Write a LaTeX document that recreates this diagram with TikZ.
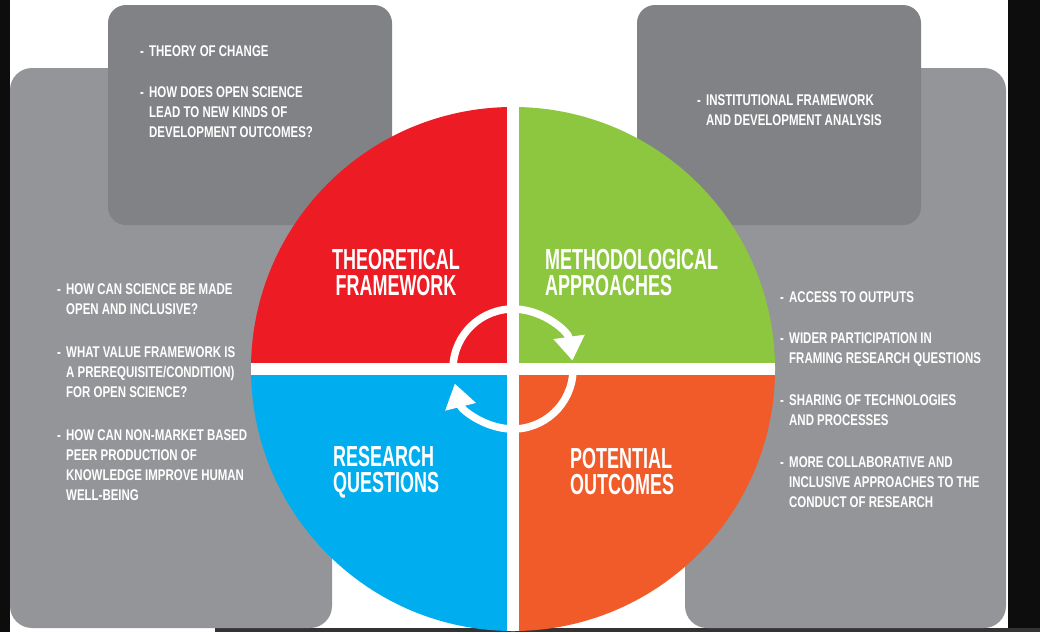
\documentclass[tikz,border=0pt]{standalone}
\usepackage{fontspec}
\setmainfont{Liberation Sans}[FakeStretch=0.74]
\newfontfamily\headfont{Liberation Sans}[FakeStretch=0.62]
\usetikzlibrary{arrows.meta}
\definecolor{qred}{HTML}{ED1C24}
\definecolor{qgreen}{HTML}{8DC63F}
\definecolor{qblue}{HTML}{00AEEF}
\definecolor{qorange}{HTML}{F15A29}
\definecolor{gbig}{HTML}{949598}
\definecolor{gdark}{HTML}{808285}
\newcommand{\itm}[1]{\makebox[9pt][l]{-}\begin{tabular}[t]{@{}l@{}}#1\end{tabular}}
\tikzset{
  small/.style={text=white,font=\bfseries\fontsize{15.5}{20}\selectfont,anchor=north west,inner sep=0pt,align=left},
  head/.style={text=white,font=\headfont\bfseries\fontsize{29}{26}\selectfont,inner sep=0pt,align=left},
  cyc/.style={white,line width=7.5pt,-{Triangle[width=30pt,length=24pt]}}
}
\begin{document}
\begin{tikzpicture}[x=1pt,y=-1pt]
\useasboundingbox (0,0) rectangle (1040,632);
\fill[white] (0,0) rectangle (1040,632);
\fill[black!95] (0,0) rectangle (10,632);
\fill[black!95] (1008,0) rectangle (1040,632);
\fill[black!80] (215,628) rectangle (1040,632);
% boxes
\fill[gbig,rounded corners=22pt] (10,68) rectangle (332,628);
\fill[gbig,rounded corners=22pt] (685,68) rectangle (1006,628);
\fill[gdark,rounded corners=18pt] (108,5) rectangle (392,225);
\fill[gdark,rounded corners=18pt] (637,5) rectangle (921,225);
% circle
\coordinate (c) at (513,369);
\begin{scope}
\clip (c) circle (262);
\fill[qred] (c) rectangle +(-270,-270);
\fill[qgreen] (c) rectangle +(270,-270);
\fill[qblue] (c) rectangle +(-270,270);
\fill[qorange] (c) rectangle +(270,270);
\draw[white,line width=12pt] (c) ++(-270,0) -- +(540,0);
\draw[white,line width=12pt] (c) ++(0,-270) -- +(0,540);
\end{scope}
\draw[cyc] (c) ++(182:60) arc (182:352:60);
\draw[cyc] (c) ++(2:60) arc (2:166:60);
% headings
\node[head,align=center] (tf) at (396,273) {THEORETICAL\\FRAMEWORK};
\node[head,anchor=west] (ma) at (545,273) {METHODOLOGICAL\\APPROACHES};
\node[head,anchor=west] (rq) at (333,472) {RESEARCH\\QUESTIONS};
\node[head,anchor=west] (po) at (570,472) {POTENTIAL\\OUTCOMES};
% small texts
\node[small] (t1) at (140,42) {\itm{THEORY OF CHANGE}};
\node[small] (t2) at (140,83) {\itm{HOW DOES OPEN SCIENCE\\LEAD TO NEW KINDS OF\\DEVELOPMENT OUTCOMES?}};
\node[small] (t3) at (697,91) {\itm{INSTITUTIONAL FRAMEWORK\\AND DEVELOPMENT ANALYSIS}};
\node[small] (l1) at (57,280) {\itm{HOW CAN SCIENCE BE MADE\\OPEN AND INCLUSIVE?}};
\node[small] (l2) at (57,343) {\itm{WHAT VALUE FRAMEWORK IS\\A PREREQUISITE/CONDITION)\\FOR OPEN SCIENCE?}};
\node[small] (l3) at (57,426) {\itm{HOW CAN NON-MARKET BASED\\PEER PRODUCTION OF\\KNOWLEDGE IMPROVE HUMAN\\WELL-BEING}};
\node[small] (r1) at (780,288) {\itm{ACCESS TO OUTPUTS}};
\node[small] (r2) at (780,329) {\itm{WIDER PARTICIPATION IN\\FRAMING RESEARCH QUESTIONS}};
\node[small] (r3) at (780,391) {\itm{SHARING OF TECHNOLOGIES\\AND PROCESSES}};
\node[small] (r4) at (780,453) {\itm{MORE COLLABORATIVE AND\\INCLUSIVE APPROACHES TO THE\\CONDUCT OF RESEARCH}};
\end{tikzpicture}
\end{document}
